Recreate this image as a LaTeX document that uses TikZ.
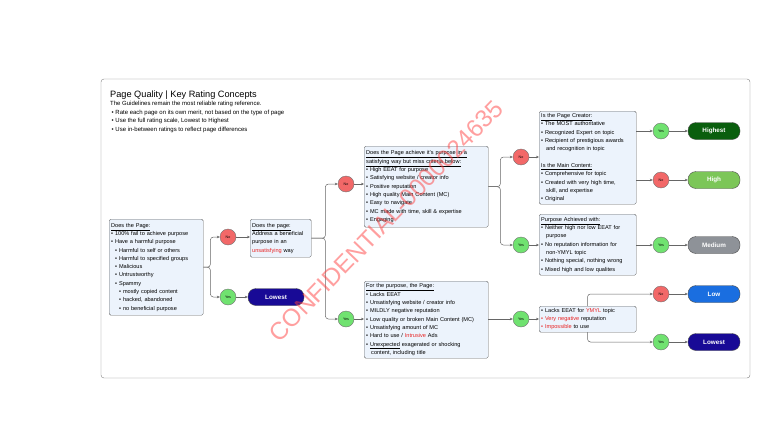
\documentclass[tikz,border=0pt]{standalone}
\usepackage{fontspec}
\setmainfont{Liberation Sans}
\usetikzlibrary{positioning,arrows.meta}
\definecolor{boxfill}{RGB}{236,243,252}
\definecolor{noRed}{RGB}{242,104,104}
\definecolor{yesGreen}{RGB}{112,226,112}
\definecolor{alertRed}{RGB}{232,36,36}
\definecolor{topGreen}{RGB}{10,94,14}
\definecolor{highGreen}{RGB}{124,198,88}
\definecolor{medGrey}{RGB}{142,146,152}
\definecolor{lowBlue}{RGB}{26,110,224}
\definecolor{lowestBlue}{RGB}{24,10,150}
\newcommand{\bul}{\textbullet\ }
\newcommand{\warn}[1]{\textcolor{alertRed}{#1}}

\begin{document}
\begin{tikzpicture}[x=1pt,y=-1pt,>={Stealth[length=3pt,width=2.6pt]},
  crit/.style={draw=black!60,fill=boxfill,rounded corners=1.5pt,align=left,
    anchor=north west,inner xsep=2pt,inner ysep=1.5pt,
    font=\fontsize{5.6}{8.3}\selectfont},
  answer/.style={circle,draw=black!55,minimum size=16pt,inner sep=0pt,
    font=\fontsize{3.6}{4}\selectfont},
  nocirc/.style={answer,fill=noRed},
  yescirc/.style={answer,fill=yesGreen},
  rating/.style={draw=black!70,rounded corners=8pt,minimum width=52pt,
    minimum height=17pt,text=white,font=\bfseries\fontsize{6.3}{7}\selectfont},
  link/.style={draw=black!60,line width=0.5pt,rounded corners=3pt}]
  \useasboundingbox (0,0) rectangle (768,439);
  % frame and heading
  \draw[black!50,rounded corners=3pt] (101,79) rectangle (750,378);
  \node[anchor=base west,inner sep=0pt,font=\fontsize{9.2}{10}\selectfont] (title) at (110,97.5)
    {Page Quality | Key Rating Concepts};
  \node[anchor=north west,inner sep=0pt,align=left,font=\fontsize{6}{8.6}\selectfont] (intro) at (110,101)
    {The Guidelines remain the most reliable rating reference.\\
     \hspace*{1.5pt}\bul Rate each page on its own merit, not based on the type of page\\
     \hspace*{1.5pt}\bul Use the full rating scale, Lowest to Highest\\
     \hspace*{1.5pt}\bul Use in-between ratings to reflect page differences};

  % criteria boxes
  \node[crit,text width=90pt,minimum height=96pt] (b1) at (109,219)
    {\underline{Does the Page:}\\
     \bul 100\% fail to achieve purpose\\
     \bul Have a harmful purpose\\
     \hspace*{4pt}\bul Harmful to self or others\\
     \hspace*{4pt}\bul Harmful to specified groups\\
     \hspace*{4pt}\bul Malicious\\
     \hspace*{4pt}\bul Untrustworthy\\
     \hspace*{4pt}\bul Spammy\\
     \hspace*{8pt}\bul mostly copied content\\
     \hspace*{8pt}\bul hacked, abandoned\\
     \hspace*{8pt}\bul no beneficial purpose};
  \node[crit,text width=57pt,minimum height=38pt] (b2) at (250,219)
    {\underline{Does the page:}\\
     Address a beneficial\\
     purpose in an\\
     \warn{unsatisfying} way};
  \node[crit,text width=120pt,minimum height=81pt] (b3) at (364,146)
    {\underline{Does the Page achieve it's purpose in a}\\
     \underline{satisfying way but miss criteria below:}\\
     \bul High EEAT for purpose\\
     \bul Satisfying website / creator info\\
     \bul Positive reputation\\
     \bul High quality Main Content (MC)\\
     \bul Easy to navigate\\
     \bul MC made with time, skill \& expertise\\
     \bul Engaging};
  \node[crit,text width=120pt,minimum height=77pt] (b4) at (364,281)
    {\underline{For the purpose, the Page:}\\
     \bul Lacks EEAT\\
     \bul Unsatisfying website / creator info\\
     \bul MILDLY negative reputation\\
     \bul Low quality or broken Main Content (MC)\\
     \bul Unsatisfying amount of MC\\
     \bul Hard to use / \warn{Intrusive} Ads\\
     \bul \underline{Unexpected} exagerated or shocking\\
     \hspace*{5pt}content, including title};
  \node[crit,text width=93pt,minimum height=93pt] (b5) at (539,111)
    {\underline{Is the Page Creator:}\\
     \bul The MOST authoritative\\
     \bul Recognized Expert on topic\\
     \bul Recipient of prestigious awards\\
     \hspace*{5pt}and recognition in topic\\[8.3pt]
     \underline{Is the Main Content:}\\
     \bul Comprehensive for topic\\
     \bul Created with very high time,\\
     \hspace*{5pt}skill, and expertise\\
     \bul Original};
  \node[crit,text width=93pt,minimum height=61pt] (b6) at (539,214)
    {\underline{Purpose Achieved with:}\\
     \bul Neither high nor low EEAT for\\
     \hspace*{5pt}purpose\\
     \bul No reputation information for\\
     \hspace*{5pt}non-YMYL topic\\
     \bul Nothing special, nothing wrong\\
     \bul Mixed high and low qualites};
  \coordinate (top7) at (587.5,306);
  \coordinate (bot7) at (587.5,332);

  % answers
  \node[nocirc]  (no1)  at (228,237) {No};
  \node[yescirc] (yes1) at (228,297) {Yes};
  \node[nocirc]  (no2)  at (346,184) {No};
  \node[yescirc] (yes2) at (346,319) {Yes};
  \node[nocirc]  (no3)  at (521,157) {No};
  \node[yescirc] (yes3) at (521,245) {Yes};
  \node[yescirc] (yes4) at (521,319) {Yes};
  \node[yescirc] (yes5) at (661,131) {Yes};
  \node[nocirc]  (no5)  at (661,180) {No};
  \node[yescirc] (yes6) at (661,245) {Yes};
  \node[nocirc]  (no7)  at (661,294) {No};
  \node[yescirc] (yes7) at (661,342) {Yes};

  % ratings
  \node[rating,fill=lowestBlue,minimum width=56pt,on grid,right=48pt of yes1] (lowest1) {Lowest};
  \node[rating,fill=topGreen,on grid,right=53pt of yes5] (highest) {Highest};
  \node[rating,fill=highGreen,on grid,right=53pt of no5] (high) {High};
  \node[rating,fill=medGrey,on grid,right=53pt of yes6] (medium) {Medium};
  \node[rating,fill=lowBlue,on grid,right=53pt of no7] (low) {Low};
  \node[rating,fill=lowestBlue,on grid,right=53pt of yes7] (lowest2) {Lowest};

  % connectors
  \draw[link,->] (b1.east) -- ++(7,0) |- (no1);
  \draw[link,->] (b1.east) -- ++(7,0) |- (yes1);
  \draw[link,->] (no1) -- (no1 -| b2.west);
  \draw[link,->] (yes1) -- (lowest1);
  \draw[link,->] (b2.east) -- ++(14,0) |- (no2);
  \draw[link,->] (b2.east) -- ++(14,0) |- (yes2);
  \draw[link,->] (no2) -- (no2 -| b3.west);
  \draw[link,->] (yes2) -- (yes2 -| b4.west);
  \draw[link,->] (b3.east) -- ++(12,0) |- (no3);
  \draw[link,->] (b3.east) -- ++(12,0) |- (yes3);
  \draw[link,->] (b4.east |- yes4) -- (yes4);
  \draw[link,->] (no3) -- (no3 -| b5.west);
  \draw[link,->] (yes3) -- (yes3 -| b6.west);
  \draw[link,->] (yes4) -- (yes4 -| b5.west);
  \draw[link,->] (b5.east |- yes5) -- (yes5);
  \draw[link,->] (b5.east |- no5) -- (no5);
  \draw[link,->] (b6.east |- yes6) -- (yes6);
  \draw[link,->] (top7) |- (no7);
  \draw[link,->] (bot7) |- (yes7);
  \draw[link,->] (yes5) -- (highest);
  \draw[link,->] (no5) -- (high);
  \draw[link,->] (yes6) -- (medium);
  \draw[link,->] (no7) -- (low);
  \draw[link,->] (yes7) -- (lowest2);

  \node[crit,text width=93pt,minimum height=26pt] (b7) at (539,306)
    {\bul Lacks EEAT for \warn{YMYL} topic\\
     \warn{\bul Very negative} reputation\\
     \warn{\bul Impossible} to use};

  % watermark
  \node[rotate=46,text=red!75,opacity=0.5,font=\fontsize{24.5}{26}\selectfont] (mark) at (386,221)
    {CONFIDENTIAL-0000024635};
\end{tikzpicture}
\end{document}
